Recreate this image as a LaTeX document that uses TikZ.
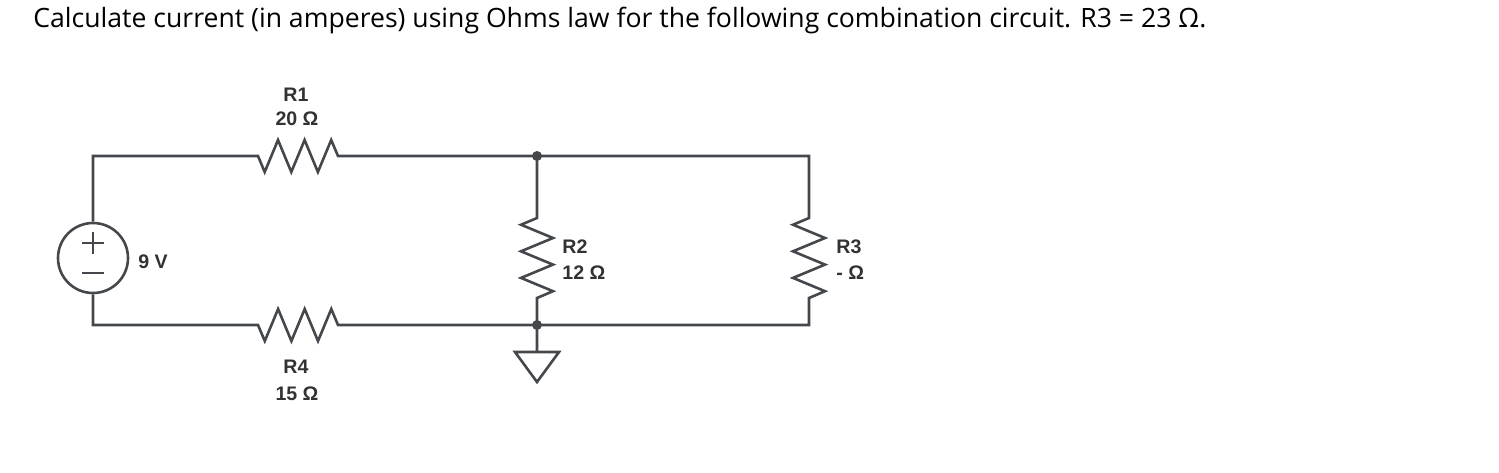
\documentclass[tikz,border=0pt]{standalone}
\usepackage{fontspec}
\setmainfont{Open Sans}
\newfontfamily\labfont{Liberation Sans}
\definecolor{wire}{RGB}{68,72,76}
\definecolor{txt}{RGB}{50,50,50}
\begin{document}
\begin{tikzpicture}[x=0.5pt,y=-0.5pt,
  wr/.style={draw=wire,line width=1.3pt,line join=miter},
  lab/.style={font=\labfont\bfseries\fontsize{9.8}{11}\selectfont,text=txt,inner sep=0pt},
  dot/.style={circle,fill=wire,inner sep=0pt,minimum size=5pt}]
\useasboundingbox (0,0) rectangle (1499,472);
\node[anchor=west,inner sep=0pt,font=\fontsize{13.3}{15}\selectfont,text=black] (title) at (33,21)
  {Calculate current (in amperes) using Ohms law for the following combination circuit. R3 = 23 Ω.};
% source
\node[circle,draw=wire,line width=1.3pt,minimum size=35pt,inner sep=0pt] (src) at (93,258) {};
\draw[wire,line width=1.2pt] (82,243)--(104,243) (93,232)--(93,254) (82,273)--(104,273);
\node[lab,anchor=west] (v) at (138,262) {9 V};
% coordinates
\coordinate (tl) at (93,156); \coordinate (bl) at (93,325);
\coordinate (r1a) at (258,156); \coordinate (r1b) at (338,156);
\coordinate (r4a) at (258,325); \coordinate (r4b) at (338,325);
\coordinate (tr) at (809,156); \coordinate (br) at (809,325);
\node[dot] (j1) at (537,156) {};
\node[dot] (j2) at (537,325) {};
\coordinate (r2a) at (537,218); \coordinate (r2b) at (537,298);
\coordinate (r3a) at (809,218); \coordinate (r3b) at (809,298);
\coordinate (g) at (537,352);
% wires
\draw[wr] (src.north)--(tl)--(r1a)
  --++(6.7,16)--++(13.3,-32)--++(13.3,32)--++(13.3,-32)--++(13.3,32)--++(13.3,-32)--(r1b)
  --(j1.center)--(tr)--(r3a)
  --++(-16,6.7)--++(32,13.3)--++(-32,13.3)--++(32,13.3)--++(-32,13.3)--++(32,13.3)--(r3b)
  --(br)--(j2.center)--(r4b)
  --++(-6.7,-16)--++(-13.3,32)--++(-13.3,-32)--++(-13.3,32)--++(-13.3,-32)--++(-13.3,32)--(r4a)
  --(bl)--(src.south);
\draw[wr] (j1.center)--(r2a)
  --++(-16,6.7)--++(32,13.3)--++(-32,13.3)--++(32,13.3)--++(-32,13.3)--++(32,13.3)--(r2b)--(j2.center)--(g);
\draw[wr] (g)++(-22,0)--++(44,0)--(537,382)--cycle;
% labels
\node[lab] (l1) at (296,95) {R1};
\node[lab] (l1v) at (297,119) {20 Ω};
\node[lab] (l4) at (296,367) {R4};
\node[lab] (l4v) at (297,394) {15 Ω};
\node[lab,anchor=west] (l2) at (562,247) {R2};
\node[lab,anchor=west] (l2v) at (562,273) {12 Ω};
\node[lab,anchor=west] (l3) at (836,247) {R3};
\node[lab,anchor=west] (l3v) at (836,273) {- Ω};
\end{tikzpicture}
\end{document}
